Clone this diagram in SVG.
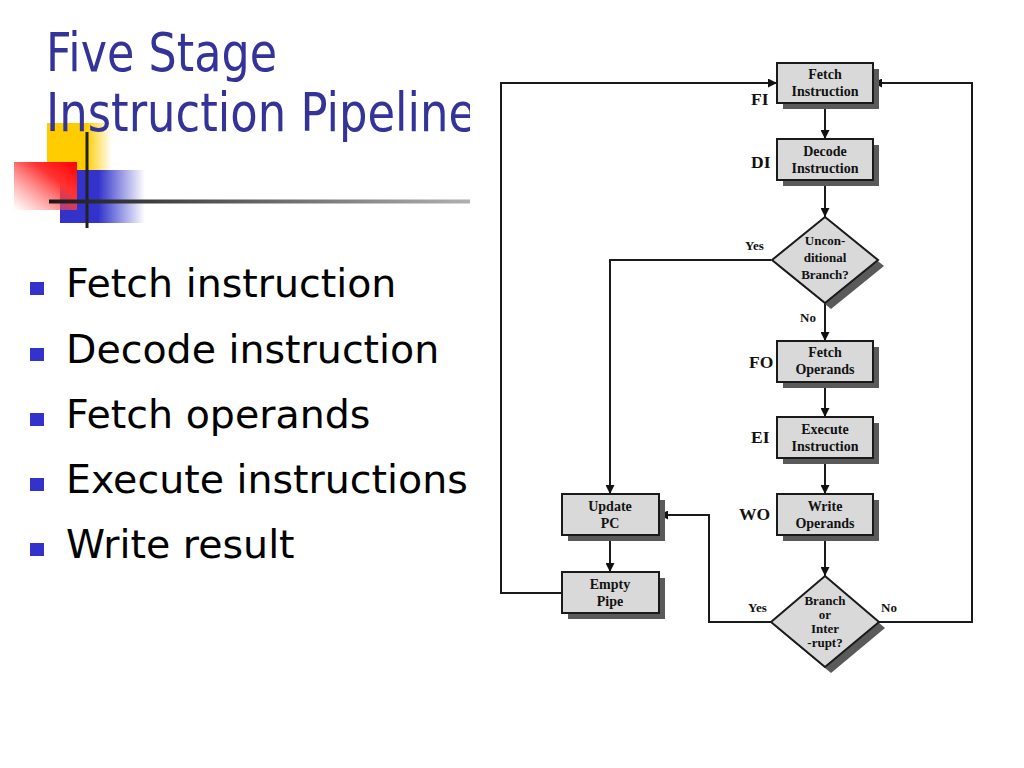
<svg xmlns="http://www.w3.org/2000/svg" width="1024" height="768" viewBox="0 0 1024 768">
<style>
.title{font-family:"DejaVu Sans",Verdana,sans-serif;font-size:54px;fill:#333399}
.bul{font-family:"DejaVu Sans",Verdana,sans-serif;font-size:39.5px;fill:#000}
.bsq{fill:#3333CC}
.box{fill:#d9d9d9;stroke:#1a1a1a;stroke-width:2}
.shd{fill:#5a5a5a}
.bt{font-family:"Liberation Serif","Times New Roman",serif;font-weight:bold;font-size:14px;fill:#111;text-anchor:middle}
.dt{font-family:"Liberation Serif","Times New Roman",serif;font-weight:bold;font-size:13px;fill:#111;text-anchor:middle}
.st{font-family:"Liberation Serif","Times New Roman",serif;font-weight:bold;font-size:17.5px;fill:#111}
.yn{font-family:"Liberation Serif","Times New Roman",serif;font-weight:bold;font-size:13px;fill:#111}
.ln{fill:none;stroke:#1a1a1a;stroke-width:2}
.la{fill:none;stroke:#1a1a1a;stroke-width:2;marker-end:url(#arr)}
</style>
<defs>
<marker id="arr" viewBox="0 0 10 10" refX="10" refY="5" markerWidth="9" markerHeight="9" markerUnits="userSpaceOnUse" orient="auto"><path d="M0,0 L10,5 L0,10 z" fill="#111"/></marker>
<linearGradient id="gy" x1="0" y1="0" x2="1" y2="0"><stop offset="0" stop-color="#FFCC00"/><stop offset="0.6" stop-color="#FFCC00"/><stop offset="1" stop-color="#FFCC00" stop-opacity="0"/></linearGradient>
<linearGradient id="gb" x1="0" y1="0" x2="1" y2="0"><stop offset="0" stop-color="#3333CC"/><stop offset="0.45" stop-color="#3333CC"/><stop offset="1" stop-color="#3333CC" stop-opacity="0"/></linearGradient>
<linearGradient id="gr" x1="1" y1="0" x2="0" y2="1"><stop offset="0" stop-color="#FF0000"/><stop offset="0.35" stop-color="#FF3333"/><stop offset="1" stop-color="#FF6666" stop-opacity="0"/></linearGradient>
<linearGradient id="gl" x1="0" y1="0" x2="1" y2="0"><stop offset="0" stop-color="#1a1a1a"/><stop offset="1" stop-color="#b0b0b0"/></linearGradient>
<clipPath id="tc"><rect x="0" y="0" width="470" height="200"/></clipPath>
</defs>
<rect width="1024" height="768" fill="#fff"/>

<g id="decoration">
<rect x="47" y="123" width="65" height="50" fill="url(#gy)"/>
<rect x="60" y="170" width="85" height="53" fill="url(#gb)"/>
<rect x="14" y="162" width="63" height="48" fill="url(#gr)"/>
<rect x="85.5" y="132" width="3" height="96" fill="#222"/>
<rect x="49" y="199.5" width="421" height="4" fill="url(#gl)"/>
</g>

<g id="title" clip-path="url(#tc)">
<text class="title" x="46" y="71" textLength="231" lengthAdjust="spacingAndGlyphs">Five Stage</text>
<text class="title" x="46" y="131" textLength="430" lengthAdjust="spacingAndGlyphs">Instruction Pipeline</text>
</g>

<g id="bullets">
<rect class="bsq" x="30" y="282" width="14" height="13"/>
<text class="bul" x="66" y="297">Fetch instruction</text>
<rect class="bsq" x="30" y="348" width="14" height="13"/>
<text class="bul" x="66" y="363">Decode instruction</text>
<rect class="bsq" x="30" y="413" width="14" height="13"/>
<text class="bul" x="66" y="428">Fetch operands</text>
<rect class="bsq" x="30" y="478" width="14" height="13"/>
<text class="bul" x="66" y="493">Execute instructions</text>
<rect class="bsq" x="30" y="543" width="14" height="13"/>
<text class="bul" x="66" y="558">Write result</text>
</g>

<g id="connectors">
<path class="la" d="M825,103 V139"/>
<path class="la" d="M825,180 V217"/>
<path class="la" d="M825,303 V341"/>
<path class="la" d="M825,382 V417"/>
<path class="la" d="M825,458 V494"/>
<path class="la" d="M825,535 V576"/>
<path class="la" d="M610,535 V572"/>
<path class="la" d="M771,260 H610 V494"/>
<path class="la" d="M771,622 H709 V515 H659"/>
<path class="la" d="M878,622 H972 V83 H873"/>
<path class="la" d="M562,593 H501 V83 H777"/>
</g>

<g id="fi">
<rect class="shd" x="783" y="69" width="96" height="40"/>
<rect class="box" x="777" y="63" width="96" height="40"/>
<text class="bt" x="825" y="79">Fetch</text>
<text class="bt" x="825" y="96">Instruction</text>
<text class="st" x="751" y="105">FI</text>
</g>

<g id="di">
<rect class="shd" x="783" y="145" width="96" height="41"/>
<rect class="box" x="777" y="139" width="96" height="41"/>
<text class="bt" x="825" y="156">Decode</text>
<text class="bt" x="825" y="173">Instruction</text>
<text class="st" x="751" y="168">DI</text>
</g>

<g id="uncond">
<polygon class="shd" points="831,223 884,266 831,309 778,266"/>
<polygon class="box" points="825,217 878,260 825,303 772,260"/>
<text class="dt" x="825" y="245">Uncon-</text>
<text class="dt" x="825" y="262">ditional</text>
<text class="dt" x="825" y="279">Branch?</text>
<text class="yn" x="745" y="250">Yes</text>
<text class="yn" x="800" y="322">No</text>
</g>

<g id="fo">
<rect class="shd" x="783" y="347" width="96" height="41"/>
<rect class="box" x="777" y="341" width="96" height="41"/>
<text class="bt" x="825" y="357">Fetch</text>
<text class="bt" x="825" y="374">Operands</text>
<text class="st" x="749" y="368">FO</text>
</g>

<g id="ei">
<rect class="shd" x="783" y="423" width="96" height="41"/>
<rect class="box" x="777" y="417" width="96" height="41"/>
<text class="bt" x="825" y="434">Execute</text>
<text class="bt" x="825" y="451">Instruction</text>
<text class="st" x="751" y="443">EI</text>
</g>

<g id="wo">
<rect class="shd" x="783" y="500" width="96" height="41"/>
<rect class="box" x="777" y="494" width="96" height="41"/>
<text class="bt" x="825" y="511">Write</text>
<text class="bt" x="825" y="528">Operands</text>
<text class="st" x="739" y="520">WO</text>
</g>

<g id="branch">
<polygon class="shd" points="831,582 885,628 831,673 777,628"/>
<polygon class="box" points="825,576 879,622 825,667 771,622"/>
<text class="dt" x="825" y="605">Branch</text>
<text class="dt" x="825" y="619">or</text>
<text class="dt" x="825" y="633">Inter</text>
<text class="dt" x="825" y="647">-rupt?</text>
<text class="yn" x="748" y="612">Yes</text>
<text class="yn" x="881" y="612">No</text>
</g>

<g id="updatepc">
<rect class="shd" x="568" y="500" width="97" height="41"/>
<rect class="box" x="562" y="494" width="97" height="41"/>
<text class="bt" x="610" y="511">Update</text>
<text class="bt" x="610" y="528">PC</text>
</g>

<g id="emptypipe">
<rect class="shd" x="568" y="578" width="97" height="41"/>
<rect class="box" x="562" y="572" width="97" height="41"/>
<text class="bt" x="610" y="589">Empty</text>
<text class="bt" x="610" y="606">Pipe</text>
</g>
</svg>
